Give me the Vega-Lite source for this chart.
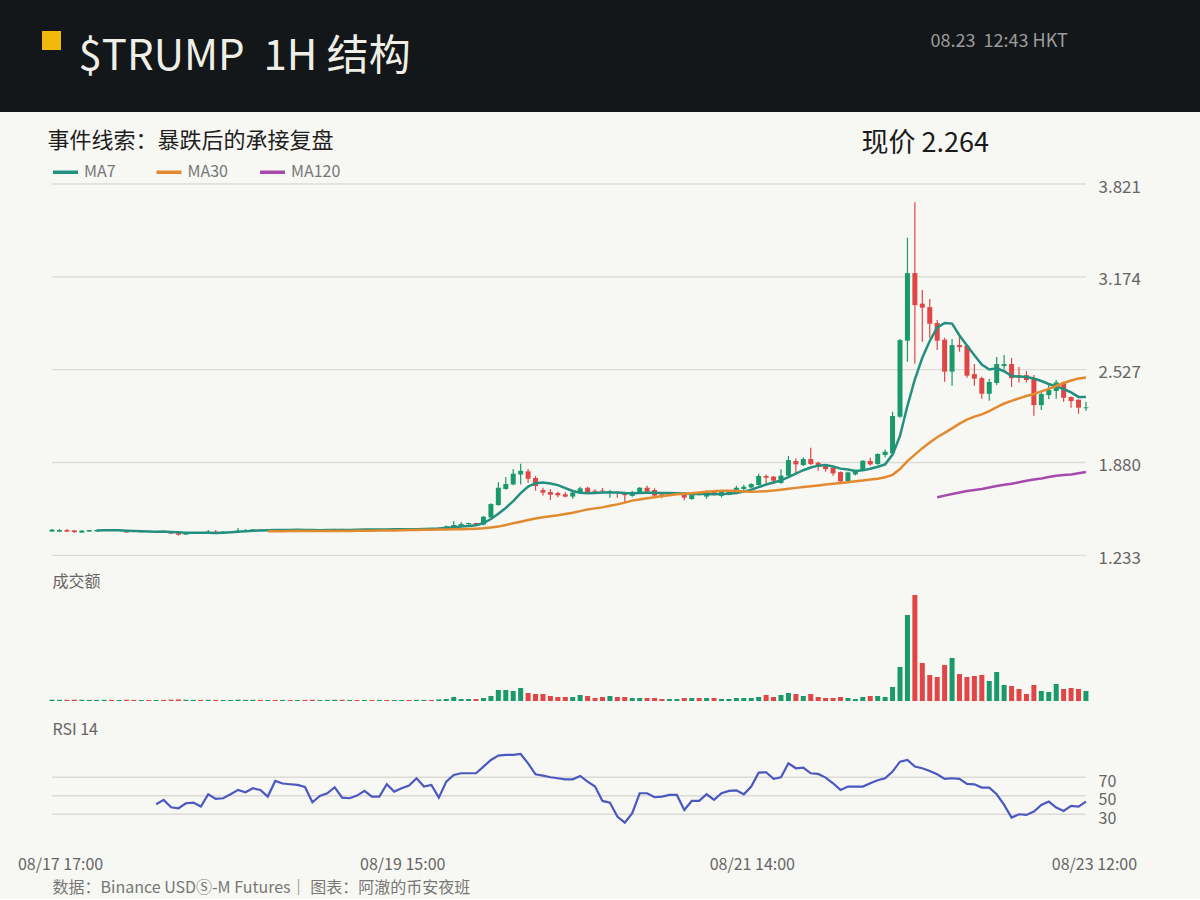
{
  "$schema": "https://vega.github.io/schema/vega-lite/v6.json",
  "background": "#f7f7f3",
  "padding": {"left": 0, "top": 0, "right": 0, "bottom": 4},
  "spacing": 0,
  "config": {
    "font": "Noto Sans CJK SC",
    "view": {"stroke": null}
  },
  "resolve": {
    "scale": {"color": "independent", "fill": "independent"},
    "legend": {"color": "independent", "fill": "independent"}
  },
  "datasets": {
    "pgrid": [
      {"g": 1.233, "t0": "2025-08-17T17:00", "t1": "2025-08-23T12:00"},
      {"g": 1.88, "t0": "2025-08-17T17:00", "t1": "2025-08-23T12:00"},
      {"g": 2.527, "t0": "2025-08-17T17:00", "t1": "2025-08-23T12:00"},
      {"g": 3.174, "t0": "2025-08-17T17:00", "t1": "2025-08-23T12:00"},
      {"g": 3.821, "t0": "2025-08-17T17:00", "t1": "2025-08-23T12:00"}
    ],
    "rgrid": [
      {"g": 30, "t0": "2025-08-17T17:00", "t1": "2025-08-23T12:00"},
      {"g": 50, "t0": "2025-08-17T17:00", "t1": "2025-08-23T12:00"},
      {"g": 70, "t0": "2025-08-17T17:00", "t1": "2025-08-23T12:00"}
    ],
    "k": [
      {"t": "2025-08-17T17:00", "o": 1.398, "h": 1.416, "l": 1.397, "c": 1.412, "v": 1.3},
      {"t": "2025-08-17T18:00", "o": 1.398, "h": 1.416, "l": 1.397, "c": 1.409, "v": 1.2},
      {"t": "2025-08-17T19:00", "o": 1.409, "h": 1.416, "l": 1.397, "c": 1.398, "v": 1.2},
      {"t": "2025-08-17T20:00", "o": 1.407, "h": 1.408, "l": 1.388, "c": 1.395, "v": 1.3},
      {"t": "2025-08-17T21:00", "o": 1.391, "h": 1.410, "l": 1.390, "c": 1.405, "v": 1.2},
      {"t": "2025-08-17T22:00", "o": 1.398, "h": 1.410, "l": 1.397, "c": 1.409, "v": 1.1},
      {"t": "2025-08-17T23:00", "o": 1.400, "h": 1.411, "l": 1.399, "c": 1.409, "v": 1.1, "m7": 1.406},
      {"t": "2025-08-18T00:00", "o": 1.405, "h": 1.413, "l": 1.403, "c": 1.411, "v": 1.2, "m7": 1.407},
      {"t": "2025-08-18T01:00", "o": 1.411, "h": 1.413, "l": 1.404, "c": 1.406, "v": 1.1, "m7": 1.407},
      {"t": "2025-08-18T02:00", "o": 1.406, "h": 1.412, "l": 1.404, "c": 1.410, "v": 1.0, "m7": 1.407},
      {"t": "2025-08-18T03:00", "o": 1.398, "h": 1.399, "l": 1.390, "c": 1.392, "v": 1.3, "m7": 1.404},
      {"t": "2025-08-18T04:00", "o": 1.400, "h": 1.402, "l": 1.396, "c": 1.398, "v": 1.1, "m7": 1.402},
      {"t": "2025-08-18T05:00", "o": 1.394, "h": 1.402, "l": 1.393, "c": 1.400, "v": 1.0, "m7": 1.400},
      {"t": "2025-08-18T06:00", "o": 1.401, "h": 1.403, "l": 1.396, "c": 1.397, "v": 1.0, "m7": 1.399},
      {"t": "2025-08-18T07:00", "o": 1.396, "h": 1.402, "l": 1.395, "c": 1.400, "v": 1.0, "m7": 1.398, "rsi": 40.8},
      {"t": "2025-08-18T08:00", "o": 1.401, "h": 1.403, "l": 1.395, "c": 1.397, "v": 1.1, "m7": 1.399, "rsi": 45.5},
      {"t": "2025-08-18T09:00", "o": 1.392, "h": 1.393, "l": 1.382, "c": 1.384, "v": 1.3, "m7": 1.396, "rsi": 37.6},
      {"t": "2025-08-18T10:00", "o": 1.388, "h": 1.389, "l": 1.370, "c": 1.377, "v": 1.5, "m7": 1.393, "rsi": 36.5},
      {"t": "2025-08-18T11:00", "o": 1.377, "h": 1.388, "l": 1.375, "c": 1.386, "v": 1.2, "m7": 1.391, "rsi": 41.9},
      {"t": "2025-08-18T12:00", "o": 1.386, "h": 1.396, "l": 1.385, "c": 1.394, "v": 1.1, "m7": 1.391, "rsi": 42.6},
      {"t": "2025-08-18T13:00", "o": 1.394, "h": 1.396, "l": 1.389, "c": 1.391, "v": 1.1, "m7": 1.390, "rsi": 38.3},
      {"t": "2025-08-18T14:00", "o": 1.391, "h": 1.409, "l": 1.390, "c": 1.398, "v": 1.2, "m7": 1.390, "rsi": 51.6},
      {"t": "2025-08-18T15:00", "o": 1.398, "h": 1.409, "l": 1.393, "c": 1.395, "v": 1.1, "m7": 1.389, "rsi": 46.6},
      {"t": "2025-08-18T16:00", "o": 1.395, "h": 1.400, "l": 1.394, "c": 1.398, "v": 1.0, "m7": 1.391, "rsi": 47.3},
      {"t": "2025-08-18T17:00", "o": 1.397, "h": 1.402, "l": 1.396, "c": 1.401, "v": 1.0, "m7": 1.393, "rsi": 51.6},
      {"t": "2025-08-18T18:00", "o": 1.398, "h": 1.423, "l": 1.396, "c": 1.405, "v": 1.3, "m7": 1.397, "rsi": 56.3},
      {"t": "2025-08-18T19:00", "o": 1.404, "h": 1.416, "l": 1.402, "c": 1.407, "v": 1.1, "m7": 1.400, "rsi": 53.8},
      {"t": "2025-08-18T20:00", "o": 1.406, "h": 1.416, "l": 1.405, "c": 1.413, "v": 1.2, "m7": 1.404, "rsi": 58.1},
      {"t": "2025-08-18T21:00", "o": 1.413, "h": 1.415, "l": 1.408, "c": 1.410, "v": 1.1, "m7": 1.406, "rsi": 56.3},
      {"t": "2025-08-18T22:00", "o": 1.410, "h": 1.415, "l": 1.408, "c": 1.413, "v": 1.0, "m7": 1.408, "m30": 1.401, "rsi": 49.1},
      {"t": "2025-08-18T23:00", "o": 1.413, "h": 1.415, "l": 1.407, "c": 1.409, "v": 1.0, "m7": 1.409, "m30": 1.401, "rsi": 66.0},
      {"t": "2025-08-19T00:00", "o": 1.409, "h": 1.414, "l": 1.407, "c": 1.412, "v": 1.1, "m7": 1.410, "m30": 1.401, "rsi": 63.2},
      {"t": "2025-08-19T01:00", "o": 1.412, "h": 1.413, "l": 1.406, "c": 1.408, "v": 1.0, "m7": 1.410, "m30": 1.402, "rsi": 62.4},
      {"t": "2025-08-19T02:00", "o": 1.408, "h": 1.413, "l": 1.406, "c": 1.411, "v": 1.0, "m7": 1.411, "m30": 1.402, "rsi": 61.7},
      {"t": "2025-08-19T03:00", "o": 1.411, "h": 1.412, "l": 1.405, "c": 1.407, "v": 1.1, "m7": 1.410, "m30": 1.402, "rsi": 59.5},
      {"t": "2025-08-19T04:00", "o": 1.407, "h": 1.408, "l": 1.402, "c": 1.404, "v": 1.2, "m7": 1.409, "m30": 1.402, "rsi": 43.0},
      {"t": "2025-08-19T05:00", "o": 1.404, "h": 1.410, "l": 1.403, "c": 1.408, "v": 1.0, "m7": 1.408, "m30": 1.402, "rsi": 49.8},
      {"t": "2025-08-19T06:00", "o": 1.405, "h": 1.416, "l": 1.404, "c": 1.410, "v": 1.1, "m7": 1.409, "m30": 1.403, "rsi": 52.7},
      {"t": "2025-08-19T07:00", "o": 1.409, "h": 1.418, "l": 1.408, "c": 1.416, "v": 1.2, "m7": 1.410, "m30": 1.403, "rsi": 59.2},
      {"t": "2025-08-19T08:00", "o": 1.416, "h": 1.418, "l": 1.407, "c": 1.409, "v": 1.2, "m7": 1.409, "m30": 1.403, "rsi": 48.0},
      {"t": "2025-08-19T09:00", "o": 1.409, "h": 1.415, "l": 1.408, "c": 1.413, "v": 1.0, "m7": 1.410, "m30": 1.403, "rsi": 47.3},
      {"t": "2025-08-19T10:00", "o": 1.413, "h": 1.415, "l": 1.410, "c": 1.412, "v": 1.0, "m7": 1.411, "m30": 1.404, "rsi": 50.2},
      {"t": "2025-08-19T11:00", "o": 1.412, "h": 1.417, "l": 1.411, "c": 1.415, "v": 1.0, "m7": 1.412, "m30": 1.404, "rsi": 55.2},
      {"t": "2025-08-19T12:00", "o": 1.415, "h": 1.416, "l": 1.411, "c": 1.413, "v": 1.0, "m7": 1.413, "m30": 1.404, "rsi": 49.1},
      {"t": "2025-08-19T13:00", "o": 1.413, "h": 1.418, "l": 1.412, "c": 1.416, "v": 1.1, "m7": 1.413, "m30": 1.405, "rsi": 49.1},
      {"t": "2025-08-19T14:00", "o": 1.416, "h": 1.417, "l": 1.411, "c": 1.413, "v": 1.0, "m7": 1.413, "m30": 1.405, "rsi": 62.4},
      {"t": "2025-08-19T15:00", "o": 1.413, "h": 1.417, "l": 1.412, "c": 1.415, "v": 1.0, "m7": 1.414, "m30": 1.406, "rsi": 54.5},
      {"t": "2025-08-19T16:00", "o": 1.415, "h": 1.419, "l": 1.414, "c": 1.417, "v": 1.0, "m7": 1.414, "m30": 1.408, "rsi": 58.1},
      {"t": "2025-08-19T17:00", "o": 1.417, "h": 1.418, "l": 1.413, "c": 1.415, "v": 1.0, "m7": 1.415, "m30": 1.409, "rsi": 61.0},
      {"t": "2025-08-19T18:00", "o": 1.415, "h": 1.421, "l": 1.414, "c": 1.419, "v": 1.1, "m7": 1.415, "m30": 1.410, "rsi": 68.9},
      {"t": "2025-08-19T19:00", "o": 1.419, "h": 1.424, "l": 1.418, "c": 1.422, "v": 1.1, "m7": 1.417, "m30": 1.411, "rsi": 59.9},
      {"t": "2025-08-19T20:00", "o": 1.422, "h": 1.423, "l": 1.418, "c": 1.420, "v": 1.0, "m7": 1.418, "m30": 1.411, "rsi": 61.7},
      {"t": "2025-08-19T21:00", "o": 1.420, "h": 1.426, "l": 1.419, "c": 1.424, "v": 1.6, "m7": 1.420, "m30": 1.412, "rsi": 48.0},
      {"t": "2025-08-19T22:00", "o": 1.423, "h": 1.440, "l": 1.421, "c": 1.435, "v": 2.0, "m7": 1.424, "m30": 1.413, "rsi": 65.3},
      {"t": "2025-08-19T23:00", "o": 1.426, "h": 1.472, "l": 1.424, "c": 1.444, "v": 4.0, "m7": 1.428, "m30": 1.414, "rsi": 72.5},
      {"t": "2025-08-20T00:00", "o": 1.440, "h": 1.465, "l": 1.438, "c": 1.451, "v": 2.0, "m7": 1.433, "m30": 1.415, "rsi": 74.3},
      {"t": "2025-08-20T01:00", "o": 1.449, "h": 1.460, "l": 1.447, "c": 1.458, "v": 2.0, "m7": 1.437, "m30": 1.416, "rsi": 74.3},
      {"t": "2025-08-20T02:00", "o": 1.458, "h": 1.460, "l": 1.444, "c": 1.447, "v": 2.0, "m7": 1.443, "m30": 1.418, "rsi": 74.3},
      {"t": "2025-08-20T03:00", "o": 1.447, "h": 1.507, "l": 1.442, "c": 1.502, "v": 3.0, "m7": 1.458, "m30": 1.421, "rsi": 81.5},
      {"t": "2025-08-20T04:00", "o": 1.497, "h": 1.596, "l": 1.495, "c": 1.590, "v": 5, "m7": 1.486, "m30": 1.426, "rsi": 88.7},
      {"t": "2025-08-20T05:00", "o": 1.583, "h": 1.743, "l": 1.580, "c": 1.704, "v": 11, "m7": 1.522, "m30": 1.433, "rsi": 93.4},
      {"t": "2025-08-20T06:00", "o": 1.695, "h": 1.778, "l": 1.690, "c": 1.730, "v": 11, "m7": 1.563, "m30": 1.444, "rsi": 94.1},
      {"t": "2025-08-20T07:00", "o": 1.727, "h": 1.834, "l": 1.722, "c": 1.802, "v": 10, "m7": 1.611, "m30": 1.456, "rsi": 94.1},
      {"t": "2025-08-20T08:00", "o": 1.796, "h": 1.871, "l": 1.727, "c": 1.822, "v": 13, "m7": 1.666, "m30": 1.467, "rsi": 95.2},
      {"t": "2025-08-20T09:00", "o": 1.818, "h": 1.834, "l": 1.739, "c": 1.767, "v": 8, "m7": 1.712, "m30": 1.479, "rsi": 85.1},
      {"t": "2025-08-20T10:00", "o": 1.772, "h": 1.786, "l": 1.684, "c": 1.716, "v": 7, "m7": 1.736, "m30": 1.489, "rsi": 73.2},
      {"t": "2025-08-20T11:00", "o": 1.688, "h": 1.704, "l": 1.649, "c": 1.670, "v": 7, "m7": 1.741, "m30": 1.498, "rsi": 71.8},
      {"t": "2025-08-20T12:00", "o": 1.674, "h": 1.695, "l": 1.618, "c": 1.655, "v": 5, "m7": 1.734, "m30": 1.505, "rsi": 70.0},
      {"t": "2025-08-20T13:00", "o": 1.667, "h": 1.676, "l": 1.637, "c": 1.651, "v": 4, "m7": 1.722, "m30": 1.512, "rsi": 68.9},
      {"t": "2025-08-20T14:00", "o": 1.658, "h": 1.672, "l": 1.637, "c": 1.642, "v": 4, "m7": 1.701, "m30": 1.521, "rsi": 67.8},
      {"t": "2025-08-20T15:00", "o": 1.642, "h": 1.681, "l": 1.628, "c": 1.670, "v": 4, "m7": 1.681, "m30": 1.530, "rsi": 67.8},
      {"t": "2025-08-20T16:00", "o": 1.665, "h": 1.711, "l": 1.660, "c": 1.700, "v": 6, "m7": 1.669, "m30": 1.541, "rsi": 71.4},
      {"t": "2025-08-20T17:00", "o": 1.704, "h": 1.711, "l": 1.660, "c": 1.665, "v": 5, "m7": 1.666, "m30": 1.553, "rsi": 65.3},
      {"t": "2025-08-20T18:00", "o": 1.682, "h": 1.693, "l": 1.665, "c": 1.675, "v": 3, "m7": 1.668, "m30": 1.560, "rsi": 59.9},
      {"t": "2025-08-20T19:00", "o": 1.685, "h": 1.702, "l": 1.665, "c": 1.680, "v": 4, "m7": 1.670, "m30": 1.567, "rsi": 44.4},
      {"t": "2025-08-20T20:00", "o": 1.674, "h": 1.688, "l": 1.634, "c": 1.680, "v": 5, "m7": 1.670, "m30": 1.578, "rsi": 42.6},
      {"t": "2025-08-20T21:00", "o": 1.676, "h": 1.676, "l": 1.635, "c": 1.668, "v": 4, "m7": 1.670, "m30": 1.588, "rsi": 27.5},
      {"t": "2025-08-20T22:00", "o": 1.670, "h": 1.676, "l": 1.603, "c": 1.652, "v": 4, "m7": 1.667, "m30": 1.600, "rsi": 21.0},
      {"t": "2025-08-20T23:00", "o": 1.647, "h": 1.683, "l": 1.641, "c": 1.670, "v": 3, "m7": 1.666, "m30": 1.614, "rsi": 31.1},
      {"t": "2025-08-21T00:00", "o": 1.665, "h": 1.708, "l": 1.660, "c": 1.704, "v": 3, "m7": 1.667, "m30": 1.622, "rsi": 52.7},
      {"t": "2025-08-21T01:00", "o": 1.704, "h": 1.718, "l": 1.665, "c": 1.676, "v": 3, "m7": 1.669, "m30": 1.630, "rsi": 52.7},
      {"t": "2025-08-21T02:00", "o": 1.688, "h": 1.700, "l": 1.642, "c": 1.649, "v": 3, "m7": 1.669, "m30": 1.638, "rsi": 48.4},
      {"t": "2025-08-21T03:00", "o": 1.658, "h": 1.665, "l": 1.630, "c": 1.649, "v": 2, "m7": 1.668, "m30": 1.646, "rsi": 49.1},
      {"t": "2025-08-21T04:00", "o": 1.655, "h": 1.675, "l": 1.650, "c": 1.670, "v": 2, "m7": 1.667, "m30": 1.652, "rsi": 50.9},
      {"t": "2025-08-21T05:00", "o": 1.660, "h": 1.672, "l": 1.655, "c": 1.668, "v": 2, "m7": 1.665, "m30": 1.658, "rsi": 50.9},
      {"t": "2025-08-21T06:00", "o": 1.658, "h": 1.663, "l": 1.616, "c": 1.635, "v": 3, "m7": 1.663, "m30": 1.662, "rsi": 34.7},
      {"t": "2025-08-21T07:00", "o": 1.625, "h": 1.660, "l": 1.620, "c": 1.653, "v": 3, "m7": 1.661, "m30": 1.665, "rsi": 44.4},
      {"t": "2025-08-21T08:00", "o": 1.668, "h": 1.672, "l": 1.650, "c": 1.655, "v": 3, "m7": 1.660, "m30": 1.670, "rsi": 44.4},
      {"t": "2025-08-21T09:00", "o": 1.642, "h": 1.685, "l": 1.628, "c": 1.674, "v": 3, "m7": 1.660, "m30": 1.676, "rsi": 51.6},
      {"t": "2025-08-21T10:00", "o": 1.674, "h": 1.680, "l": 1.650, "c": 1.656, "v": 3, "m7": 1.659, "m30": 1.680, "rsi": 45.5},
      {"t": "2025-08-21T11:00", "o": 1.647, "h": 1.680, "l": 1.636, "c": 1.674, "v": 2, "m7": 1.660, "m30": 1.683, "rsi": 52.7},
      {"t": "2025-08-21T12:00", "o": 1.656, "h": 1.680, "l": 1.652, "c": 1.674, "v": 2, "m7": 1.662, "m30": 1.683, "rsi": 55.2},
      {"t": "2025-08-21T13:00", "o": 1.676, "h": 1.718, "l": 1.672, "c": 1.704, "v": 3, "m7": 1.668, "m30": 1.681, "rsi": 55.9},
      {"t": "2025-08-21T14:00", "o": 1.695, "h": 1.725, "l": 1.688, "c": 1.711, "v": 3, "m7": 1.677, "m30": 1.678, "rsi": 51.6},
      {"t": "2025-08-21T15:00", "o": 1.706, "h": 1.735, "l": 1.700, "c": 1.730, "v": 3, "m7": 1.690, "m30": 1.676, "rsi": 59.9},
      {"t": "2025-08-21T16:00", "o": 1.722, "h": 1.802, "l": 1.720, "c": 1.786, "v": 4, "m7": 1.708, "m30": 1.677, "rsi": 75.0},
      {"t": "2025-08-21T17:00", "o": 1.786, "h": 1.797, "l": 1.735, "c": 1.774, "v": 6, "m7": 1.726, "m30": 1.680, "rsi": 75.4},
      {"t": "2025-08-21T18:00", "o": 1.781, "h": 1.786, "l": 1.740, "c": 1.753, "v": 4, "m7": 1.740, "m30": 1.684, "rsi": 68.2},
      {"t": "2025-08-21T19:00", "o": 1.737, "h": 1.832, "l": 1.732, "c": 1.788, "v": 6, "m7": 1.755, "m30": 1.690, "rsi": 70.0},
      {"t": "2025-08-21T20:00", "o": 1.788, "h": 1.925, "l": 1.785, "c": 1.897, "v": 8, "m7": 1.778, "m30": 1.697, "rsi": 85.1},
      {"t": "2025-08-21T21:00", "o": 1.890, "h": 1.909, "l": 1.804, "c": 1.867, "v": 7, "m7": 1.803, "m30": 1.703, "rsi": 79.7},
      {"t": "2025-08-21T22:00", "o": 1.862, "h": 1.916, "l": 1.855, "c": 1.904, "v": 5, "m7": 1.826, "m30": 1.709, "rsi": 80.5},
      {"t": "2025-08-21T23:00", "o": 1.904, "h": 1.983, "l": 1.862, "c": 1.869, "v": 7, "m7": 1.845, "m30": 1.715, "rsi": 74.3},
      {"t": "2025-08-22T00:00", "o": 1.878, "h": 1.885, "l": 1.823, "c": 1.851, "v": 4, "m7": 1.858, "m30": 1.720, "rsi": 73.6},
      {"t": "2025-08-22T01:00", "o": 1.857, "h": 1.867, "l": 1.816, "c": 1.834, "v": 3, "m7": 1.862, "m30": 1.726, "rsi": 69.6},
      {"t": "2025-08-22T02:00", "o": 1.843, "h": 1.850, "l": 1.788, "c": 1.804, "v": 3, "m7": 1.852, "m30": 1.731, "rsi": 63.5},
      {"t": "2025-08-22T03:00", "o": 1.813, "h": 1.818, "l": 1.745, "c": 1.748, "v": 4, "m7": 1.837, "m30": 1.737, "rsi": 56.3},
      {"t": "2025-08-22T04:00", "o": 1.750, "h": 1.815, "l": 1.745, "c": 1.811, "v": 3, "m7": 1.831, "m30": 1.742, "rsi": 59.9},
      {"t": "2025-08-22T05:00", "o": 1.797, "h": 1.830, "l": 1.790, "c": 1.827, "v": 2, "m7": 1.821, "m30": 1.749, "rsi": 59.9},
      {"t": "2025-08-22T06:00", "o": 1.827, "h": 1.895, "l": 1.822, "c": 1.892, "v": 4, "m7": 1.825, "m30": 1.755, "rsi": 59.9},
      {"t": "2025-08-22T07:00", "o": 1.890, "h": 1.913, "l": 1.858, "c": 1.867, "v": 5, "m7": 1.836, "m30": 1.761, "rsi": 63.5},
      {"t": "2025-08-22T08:00", "o": 1.869, "h": 1.945, "l": 1.865, "c": 1.939, "v": 5, "m7": 1.850, "m30": 1.767, "rsi": 66.8},
      {"t": "2025-08-22T09:00", "o": 1.932, "h": 1.971, "l": 1.916, "c": 1.955, "v": 4, "m7": 1.867, "m30": 1.777, "rsi": 68.9},
      {"t": "2025-08-22T10:00", "o": 1.944, "h": 2.234, "l": 1.940, "c": 2.204, "v": 14, "m7": 1.935, "m30": 1.794, "rsi": 76.1},
      {"t": "2025-08-22T11:00", "o": 2.199, "h": 2.740, "l": 2.192, "c": 2.733, "v": 34, "m7": 2.065, "m30": 1.834, "rsi": 86.9},
      {"t": "2025-08-22T12:00", "o": 2.729, "h": 3.447, "l": 2.582, "c": 3.200, "v": 86, "m7": 2.275, "m30": 1.890, "rsi": 88.7},
      {"t": "2025-08-22T13:00", "o": 3.200, "h": 3.693, "l": 2.568, "c": 2.977, "v": 106, "m7": 2.460, "m30": 1.935, "rsi": 81.5},
      {"t": "2025-08-22T14:00", "o": 2.987, "h": 3.082, "l": 2.722, "c": 2.959, "v": 38, "m7": 2.610, "m30": 1.980, "rsi": 79.7},
      {"t": "2025-08-22T15:00", "o": 2.963, "h": 3.019, "l": 2.750, "c": 2.847, "v": 26, "m7": 2.727, "m30": 2.019, "rsi": 76.8},
      {"t": "2025-08-22T16:00", "o": 2.852, "h": 2.873, "l": 2.664, "c": 2.729, "v": 24, "m7": 2.820, "m30": 2.056, "m120": 1.637, "rsi": 73.2},
      {"t": "2025-08-22T17:00", "o": 2.736, "h": 2.750, "l": 2.443, "c": 2.513, "v": 36, "m7": 2.852, "m30": 2.086, "m120": 1.649, "rsi": 68.2},
      {"t": "2025-08-22T18:00", "o": 2.513, "h": 2.740, "l": 2.415, "c": 2.698, "v": 43, "m7": 2.848, "m30": 2.118, "m120": 1.660, "rsi": 68.9},
      {"t": "2025-08-22T19:00", "o": 2.698, "h": 2.768, "l": 2.652, "c": 2.684, "v": 27, "m7": 2.765, "m30": 2.151, "m120": 1.671, "rsi": 68.2},
      {"t": "2025-08-22T20:00", "o": 2.694, "h": 2.700, "l": 2.471, "c": 2.485, "v": 24, "m7": 2.695, "m30": 2.178, "m120": 1.681, "rsi": 62.8},
      {"t": "2025-08-22T21:00", "o": 2.496, "h": 2.566, "l": 2.415, "c": 2.464, "v": 25, "m7": 2.628, "m30": 2.200, "m120": 1.688, "rsi": 62.4},
      {"t": "2025-08-22T22:00", "o": 2.468, "h": 2.477, "l": 2.325, "c": 2.359, "v": 26, "m7": 2.563, "m30": 2.215, "m120": 1.695, "rsi": 58.8},
      {"t": "2025-08-22T23:00", "o": 2.359, "h": 2.461, "l": 2.311, "c": 2.441, "v": 20, "m7": 2.528, "m30": 2.238, "m120": 1.706, "rsi": 58.8},
      {"t": "2025-08-23T00:00", "o": 2.434, "h": 2.615, "l": 2.420, "c": 2.566, "v": 29, "m7": 2.536, "m30": 2.266, "m120": 1.716, "rsi": 51.6},
      {"t": "2025-08-23T01:00", "o": 2.552, "h": 2.629, "l": 2.529, "c": 2.566, "v": 16, "m7": 2.516, "m30": 2.291, "m120": 1.724, "rsi": 40.1},
      {"t": "2025-08-23T02:00", "o": 2.566, "h": 2.608, "l": 2.406, "c": 2.468, "v": 15, "m7": 2.482, "m30": 2.309, "m120": 1.732, "rsi": 26.4},
      {"t": "2025-08-23T03:00", "o": 2.487, "h": 2.545, "l": 2.438, "c": 2.473, "v": 12, "m7": 2.479, "m30": 2.327, "m120": 1.742, "rsi": 30.0},
      {"t": "2025-08-23T04:00", "o": 2.489, "h": 2.517, "l": 2.438, "c": 2.455, "v": 7, "m7": 2.476, "m30": 2.343, "m120": 1.753, "rsi": 29.3},
      {"t": "2025-08-23T05:00", "o": 2.466, "h": 2.489, "l": 2.206, "c": 2.280, "v": 16, "m7": 2.465, "m30": 2.357, "m120": 1.761, "rsi": 32.9},
      {"t": "2025-08-23T06:00", "o": 2.280, "h": 2.373, "l": 2.245, "c": 2.357, "v": 10, "m7": 2.448, "m30": 2.376, "m120": 1.769, "rsi": 40.1},
      {"t": "2025-08-23T07:00", "o": 2.350, "h": 2.420, "l": 2.322, "c": 2.385, "v": 9, "m7": 2.427, "m30": 2.393, "m120": 1.779, "rsi": 43.7},
      {"t": "2025-08-23T08:00", "o": 2.378, "h": 2.455, "l": 2.325, "c": 2.438, "v": 17, "m7": 2.410, "m30": 2.413, "m120": 1.788, "rsi": 37.2},
      {"t": "2025-08-23T09:00", "o": 2.438, "h": 2.445, "l": 2.304, "c": 2.331, "v": 12, "m7": 2.392, "m30": 2.434, "m120": 1.793, "rsi": 33.6},
      {"t": "2025-08-23T10:00", "o": 2.336, "h": 2.340, "l": 2.262, "c": 2.308, "v": 13, "m7": 2.369, "m30": 2.451, "m120": 1.797, "rsi": 39.0},
      {"t": "2025-08-23T11:00", "o": 2.317, "h": 2.320, "l": 2.220, "c": 2.262, "v": 12, "m7": 2.337, "m30": 2.465, "m120": 1.805, "rsi": 38.3},
      {"t": "2025-08-23T12:00", "o": 2.258, "h": 2.303, "l": 2.238, "c": 2.264, "v": 10, "m7": 2.336, "m30": 2.473, "m120": 1.813, "rsi": 43.7}
    ]
  },
  "vconcat": [
    {
      "width": 1200,
      "height": 112,
      "view": {"fill": "#141719", "stroke": null},
      "data": {"values": []},
      "mark": {"type": "square", "opacity": 1, "filled": true},
      "encoding": {
        "x": {
          "datum": 0,
          "type": "quantitative",
          "scale": {"domain": [0, 1]},
          "axis": {
            "orient": "top",
            "domain": false,
            "ticks": false,
            "labels": false,
            "grid": false,
            "title": "08.23\u00a0 12:43 HKT",
            "titleX": 930,
            "titleY": 46,
            "titleAlign": "left",
            "titleBaseline": "alphabetic",
            "titleFontSize": 18,
            "titleFontWeight": "normal",
            "titleColor": "#9c9c9c"
          }
        },
        "y": {
          "datum": 0,
          "type": "quantitative",
          "scale": {"domain": [0, 1]},
          "axis": {
            "orient": "left",
            "domain": false,
            "ticks": false,
            "labels": false,
            "grid": false,
            "title": "$TRUMP\u00a0 1H 结构",
            "titleAngle": 0,
            "titleX": 78,
            "titleY": 69.5,
            "titleAlign": "left",
            "titleBaseline": "alphabetic",
            "titleFontSize": 42,
            "titleFontWeight": "normal",
            "titleColor": "#f0efe7"
          }
        },
        "fill": {
          "datum": "logo",
          "type": "nominal",
          "scale": {"domain": ["logo"], "range": ["#f0b90b"]},
          "legend": {
            "orient": "none",
            "legendX": 42,
            "legendY": 31,
            "padding": 0,
            "title": null,
            "symbolType": "square",
            "symbolSize": 361,
            "symbolStrokeWidth": 0,
            "labelExpr": "''"
          }
        }
      }
    },
    {
      "width": 1200,
      "height": 730,
      "layer": [
        {
          "data": {"name": "pgrid"},
          "mark": {"type": "rule", "stroke": "#dcdbd5", "strokeWidth": 1.3},
          "encoding": {
            "x": {
              "field": "t0",
              "type": "temporal",
              "scale": {
                "domain": [
                  {"year": 2025, "month": 8, "date": 17, "hours": 10},
                  {"year": 2025, "month": 8, "date": 24, "hours": 3, "minutes": 20}
                ],
                "nice": false,
                "padding": 0
              },
              "axis": {
                "orient": "bottom",
                "values": [
                  {"year": 2025, "month": 8, "date": 17, "hours": 17},
                  {"year": 2025, "month": 8, "date": 19, "hours": 15},
                  {"year": 2025, "month": 8, "date": 21, "hours": 14},
                  {"year": 2025, "month": 8, "date": 23, "hours": 12}
                ],
                "format": "%m/%d %H:%M",
                "grid": false,
                "domain": false,
                "ticks": false,
                "labelPadding": 14,
                "labelFontSize": 16,
                "labelColor": "#666666",
                "labelOffset": 8,
                "labelFlush": false,
                "labelOverlap": false,
                "title": "数据：Binance USDⓈ-M Futures｜ 图表：阿澈的币安夜班",
                "titleX": 52,
                "titleY": 45,
                "titleAlign": "left",
                "titleBaseline": "middle",
                "titleFontSize": 16,
                "titleFontWeight": "normal",
                "titleColor": "#777777"
              }
            },
            "x2": {"field": "t1"},
            "y": {
              "field": "g",
              "type": "quantitative",
              "scale": {"domain": [1.233, 3.821], "range": [443.3, 72], "zero": false, "nice": false},
              "axis": {
                "orient": "right",
                "offset": -114,
                "values": [1.233, 1.88, 2.527, 3.174, 3.821],
                "format": ".3f",
                "grid": false,
                "domain": false,
                "ticks": false,
                "labelPadding": 12,
                "labelFontSize": 17,
                "labelColor": "#666666",
                "labelAlign": "left",
                "labelBaseline": "middle",
                "labelOffset": 3,
                "labelFlush": false,
                "labelOverlap": false,
                "title": "现价 2.264",
                "titleAngle": 0,
                "titleX": -225,
                "titleY": 31,
                "titleAlign": "left",
                "titleBaseline": "middle",
                "titleFontSize": 27,
                "titleFontWeight": "normal",
                "titleColor": "#1a1a1a"
              }
            }
          }
        },
        {
          "data": {"name": "k"},
          "mark": {"type": "rule", "strokeWidth": 1.2},
          "encoding": {
            "x": {"field": "t", "type": "temporal"},
            "y": {
              "field": "l",
              "type": "quantitative",
              "scale": {"domain": [1.233, 3.821], "range": [443.3, 72], "zero": false, "nice": false},
              "axis": {
                "orient": "left",
                "domain": false,
                "ticks": false,
                "labels": false,
                "grid": false,
                "title": "事件线索：暴跌后的承接复盘",
                "titleAngle": 0,
                "titleX": 47,
                "titleY": 28,
                "titleAlign": "left",
                "titleBaseline": "middle",
                "titleFontSize": 22,
                "titleFontWeight": "normal",
                "titleColor": "#1e1e1e"
              }
            },
            "y2": {"field": "h"},
            "color": {"condition": {"test": "datum.c >= datum.o", "value": "#1a9a6c"}, "value": "#e04646"}
          }
        },
        {
          "data": {"name": "k"},
          "mark": {"type": "bar", "width": 5},
          "encoding": {
            "x": {"field": "t", "type": "temporal"},
            "y": {
              "field": "o",
              "type": "quantitative",
              "scale": {"domain": [1.233, 3.821], "range": [443.3, 72], "zero": false, "nice": false},
              "axis": null
            },
            "y2": {"field": "c"},
            "color": {"condition": {"test": "datum.c >= datum.o", "value": "#1a9a6c"}, "value": "#e04646"}
          }
        },
        {
          "data": {"name": "k"},
          "mark": {"type": "line", "strokeWidth": 2.5},
          "encoding": {
            "x": {"field": "t", "type": "temporal"},
            "y": {
              "field": "m7",
              "type": "quantitative",
              "scale": {"domain": [1.233, 3.821], "range": [443.3, 72], "zero": false, "nice": false},
              "axis": null
            },
            "color": {
              "datum": "MA7",
              "type": "nominal",
              "scale": {"domain": ["MA7", "MA30", "MA120"], "range": ["#23907f", "#e38a2f", "#a64aab"]},
              "legend": {
                "orient": "none",
                "legendX": 51,
                "legendY": 45.5,
                "direction": "horizontal",
                "columns": 3,
                "gridAlign": "all",
                "columnPadding": 15.5,
                "padding": 0,
                "title": null,
                "symbolType": "stroke",
                "symbolSize": 625,
                "symbolStrokeWidth": 3.5,
                "labelFontSize": 16,
                "labelColor": "#777777",
                "labelOffset": 4
              }
            }
          }
        },
        {
          "data": {"name": "k"},
          "mark": {"type": "line", "strokeWidth": 2.5},
          "encoding": {
            "x": {"field": "t", "type": "temporal"},
            "y": {
              "field": "m30",
              "type": "quantitative",
              "scale": {"domain": [1.233, 3.821], "range": [443.3, 72], "zero": false, "nice": false},
              "axis": null
            },
            "color": {"datum": "MA30", "type": "nominal"}
          }
        },
        {
          "data": {"name": "k"},
          "mark": {"type": "line", "strokeWidth": 2.5},
          "encoding": {
            "x": {"field": "t", "type": "temporal"},
            "y": {
              "field": "m120",
              "type": "quantitative",
              "scale": {"domain": [1.233, 3.821], "range": [443.3, 72], "zero": false, "nice": false},
              "axis": null
            },
            "color": {"datum": "MA120", "type": "nominal"}
          }
        },
        {
          "data": {"name": "k"},
          "mark": {"type": "bar", "width": 5},
          "encoding": {
            "x": {"field": "t", "type": "temporal"},
            "y": {
              "field": "v",
              "type": "quantitative",
              "scale": {"domain": [0, 106], "range": [589, 483], "nice": false},
              "axis": {
                "orient": "left",
                "labels": false,
                "ticks": false,
                "domain": false,
                "grid": false,
                "title": "成交额",
                "titleAngle": 0,
                "titleX": 52,
                "titleY": 469,
                "titleAlign": "left",
                "titleBaseline": "middle",
                "titleFontSize": 16,
                "titleFontWeight": "normal",
                "titleColor": "#666666"
              }
            },
            "color": {"condition": {"test": "datum.c >= datum.o", "value": "#1a9a6c"}, "value": "#e04646"}
          }
        },
        {
          "data": {"name": "rgrid"},
          "mark": {"type": "rule", "stroke": "#dcdbd5", "strokeWidth": 1.3},
          "encoding": {
            "x": {"field": "t0", "type": "temporal"},
            "x2": {"field": "t1"},
            "y": {
              "field": "g",
              "type": "quantitative",
              "scale": {"domain": [0, 100], "range": [730, 637.5], "zero": false, "nice": false},
              "axis": {
                "orient": "right",
                "offset": -114,
                "values": [30, 50, 70],
                "grid": false,
                "domain": false,
                "ticks": false,
                "labelPadding": 12,
                "labelFontSize": 16,
                "labelColor": "#666666",
                "labelAlign": "left",
                "labelBaseline": "middle",
                "labelOffset": 4,
                "labelFlush": false,
                "labelOverlap": false,
                "title": "RSI 14",
                "titleAngle": 0,
                "titleX": -1034,
                "titleY": 617,
                "titleAlign": "left",
                "titleBaseline": "middle",
                "titleFontSize": 16,
                "titleFontWeight": "normal",
                "titleColor": "#666666"
              }
            }
          }
        },
        {
          "data": {"name": "k"},
          "mark": {"type": "line", "strokeWidth": 2.2, "color": "#4b58bf"},
          "encoding": {
            "x": {"field": "t", "type": "temporal"},
            "y": {
              "field": "rsi",
              "type": "quantitative",
              "scale": {"domain": [0, 100], "range": [730, 637.5], "zero": false, "nice": false},
              "axis": null
            }
          }
        }
      ],
      "resolve": {"scale": {"y": "independent"}, "axis": {"y": "independent"}}
    }
  ]
}
